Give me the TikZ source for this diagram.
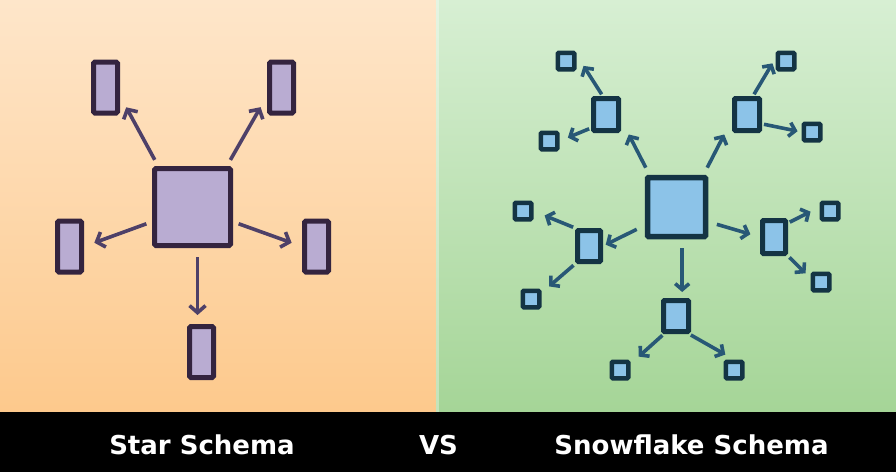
\documentclass[tikz,border=0pt]{standalone}
\usepackage{fontspec}
\setmainfont{DejaVu Sans}
\usetikzlibrary{positioning,calc,arrows.meta}

\definecolor{orangetop}{HTML}{FEE6CA}
\definecolor{orangebottom}{HTML}{FDC98C}
\definecolor{greentop}{HTML}{D7EFD3}
\definecolor{greenbottom}{HTML}{A5D597}
\definecolor{starfill}{HTML}{B9ACD2}
\definecolor{starline}{HTML}{34243F}
\definecolor{stararrow}{HTML}{4E4068}
\definecolor{snowfill}{HTML}{8CC3E8}
\definecolor{snowline}{HTML}{143444}
\definecolor{snowarrow}{HTML}{285876}

\begin{document}
\begin{tikzpicture}[x=1pt,y=-1pt,
		starbox/.style={draw=starline, fill=starfill, line width=5pt, rounded corners=1.5pt, inner sep=0pt},
		dimbox/.style={starbox, minimum width=24pt, minimum height=51pt},
		snowbox/.style={draw=snowline, fill=snowfill, line width=5pt, rounded corners=1pt, inner sep=0pt},
		subbox/.style={snowbox, minimum width=25pt, minimum height=32pt},
		leafbox/.style={snowbox, line width=4.5pt, minimum width=16.5pt, minimum height=16.5pt},
		stararr/.style={-{Straight Barb[length=7pt,width=16pt]}, line width=3.6pt, draw=stararrow, shorten <=7pt, shorten >=10pt},
		snowarr/.style={-{Straight Barb[length=6pt,width=14pt]}, line width=3.6pt, draw=snowarrow, shorten <=2pt, shorten >=8pt},
		caption/.style={anchor=base, text=white, font=\bfseries\fontsize{26}{30}\selectfont, inner sep=0pt}]
		\useasboundingbox (0,0) rectangle (896,472);
		% panels
		\shade[top color=orangetop, bottom color=orangebottom] (0,0) rectangle (436,412);
		\shade[top color=greentop, bottom color=greenbottom] (436,0) rectangle (896,412);
		\fill[white, opacity=0.35] (436,0) rectangle (439,412);
		\fill[black] (0,412) rectangle (896,472);
		
		% star schema
		\node[starbox, minimum width=76pt, minimum height=77pt] (fact) at (192.5,207) {};
		\node[dimbox] (tl) at (105.5,87.5) {};
		\node[dimbox] (tr) at (281.5,87.5) {};
		\node[dimbox] (l) at (69.5,246.5) {};
		\node[dimbox] (r) at (316.5,246.5) {};
		\node[dimbox] (b) at (201.5,352) {};
		\draw[stararr, shorten >=13pt] (fact.130) -- (tl.-30);
		\draw[stararr, shorten >=13pt] (fact.50) -- (tr.-150);
		\draw[stararr, shorten <=6pt, shorten >=11pt] (fact.200) -- (l.east);
		\draw[stararr, shorten <=6pt, shorten >=11pt] (fact.340) -- (r.west);
		\draw[stararr, shorten <=9pt, shorten >=9pt] (fact.-83) -- (fact.-83 |- b.north);
		
		% snowflake schema
		\node[snowbox, line width=5.5pt, minimum width=58pt, minimum height=59pt] (hub) at (676.5,207) {};
		\node[subbox] (mtl) at (606,114.5) {};
		\node[subbox] (mtr) at (747,114.5) {};
		\node[subbox, minimum width=23pt, minimum height=31pt] (ml) at (589,246) {};
		\node[subbox, minimum width=23pt, minimum height=33pt] (mr) at (774,237) {};
		\node[subbox, minimum height=31pt] (mb) at (676,316) {};
		\node[leafbox] (tlt) at (566,61) {};
		\node[leafbox] (tll) at (549,141) {};
		\node[leafbox] (trt) at (786,61) {};
		\node[leafbox] (trr) at (812,132) {};
		\node[leafbox] (llt) at (523,211) {};
		\node[leafbox] (llb) at (531,299) {};
		\node[leafbox] (rrt) at (830,211) {};
		\node[leafbox] (rrb) at (821,282) {};
		\node[leafbox] (bbl) at (620,370) {};
		\node[leafbox] (bbr) at (734,370) {};
		\draw[snowarr, shorten <=8pt, shorten >=17pt] (hub.130) -- (mtl.-18);
		\draw[snowarr, shorten <=8pt, shorten >=17pt] (hub.50) -- (mtr.198);
		\draw[snowarr, shorten <=9pt, shorten >=3pt] (hub.210) -- (ml.east);
		\draw[snowarr, shorten <=9pt, shorten >=10pt] (hub.335) -- (mr.west);
		\draw[snowarr, shorten <=9pt, shorten >=6pt] (hub.-80) -- (hub.-80 |- mb.north);
		\draw[snowarr, shorten >=13pt] (mtl.100) -- (tlt.30);
		\draw[snowarr, shorten >=9pt] (mtl.222) -- (tll.east);
		\draw[snowarr, shorten >=6pt] (mtr.72) -- (trt.165);
		\draw[snowarr, shorten >=4pt] (mtr.-32) -- (trr.west);
		\draw[snowarr, shorten >=12pt] (ml.north west) -- (llt.east);
		\draw[snowarr, shorten >=10pt] (ml.south west) -- (llb.30);
		\draw[snowarr, shorten >=10pt] (mr.45) -- (rrt.160);
		\draw[snowarr, shorten >=7pt] (mr.south east) -- (rrb.160);
		\draw[snowarr, shorten >=11pt] (mb.236) -- (bbl.30);
		\draw[snowarr, shorten >=10pt] (mb.-54) -- (bbr.north);
		
		% captions
		\node[caption] (starcap) at (202,454) {Star Schema};
		\node[caption] (vscap) at (438.5,454) {VS};
		\node[caption] (snowcap) at (691.5,454) {Snowflake Schema};
\end{tikzpicture}
\end{document}
